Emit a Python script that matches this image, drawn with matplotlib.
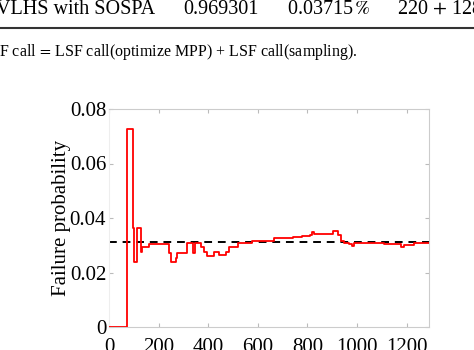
import matplotlib.pyplot as plt

plt.rcParams['font.family'] = ['Liberation Serif', 'DejaVu Serif']
plt.rcParams['mathtext.fontset'] = 'stix'

# failure probability estimate vs. number of samples (post-step)
n_samples = [0, 71, 95, 99, 112, 129, 133, 161, 243, 249, 270, 276, 314, 337,
             347, 370, 384, 397, 424, 443, 470, 484, 520, 578, 665, 700, 740,
             780, 812, 818, 826, 904, 923, 934, 947, 967, 980, 988, 1108,
             1177, 1189, 1230, 1290]
pf = [0.0, 0.0727, 0.0363, 0.024, 0.0363, 0.0275, 0.0293, 0.0305, 0.027,
      0.024, 0.0252, 0.027, 0.031, 0.027, 0.031, 0.0295, 0.0276, 0.026,
      0.0276, 0.0265, 0.0276, 0.0295, 0.031, 0.0315, 0.0325, 0.0328, 0.0331,
      0.0335, 0.0339, 0.035, 0.034, 0.0353, 0.0336, 0.0317, 0.031, 0.0305,
      0.0296, 0.031, 0.0306, 0.0295, 0.030, 0.0309, 0.0309]
pf_ref = 0.0312

x_ticks = [0, 200, 400, 600, 800, 1000, 1200]
y_ticks = [0, 0.02, 0.04, 0.06, 0.08]
y_tick_labels = ['0', '0.02', '0.04', '0.06', '0.08']

fig = plt.figure(figsize=(4.74, 3.5), dpi=100)

# table row and footnote above the plot
row_y = 1 - 9 / 350
fig.text(-4 / 474, row_y, 'VLHS with SOSPA', fontsize=14.5, va='center')
fig.text(183 / 474, row_y, '0.969301', fontsize=14.5, va='center')
fig.text(287 / 474, row_y, r'0.03715$\,\%$', fontsize=14.5, va='center')
fig.text(397 / 474, row_y, r'220$\,+\,$128', fontsize=14.5, va='center')
fig.add_artist(plt.Line2D([0, 1], [1 - 28 / 350, 1 - 28 / 350],
                          color='#333333', lw=1.5))
fig.text(-1 / 474, 1 - 52 / 350,
         r'F call$\,=\,$LSF call(optimize MPP) + LSF call(sampling).',
         fontsize=11.5, va='center')

ax = fig.add_axes([109 / 474, 23 / 350, 320 / 474, 218 / 350])
ax.step(n_samples, pf, where='post', color='red', lw=1.3, zorder=3)
ax.axhline(pf_ref, color='black', ls=(0, (4, 3)), lw=1.4, zorder=2)

ax.set_xlim(0, 1290)
ax.set_ylim(0, 0.08)
ax.set_xticks(x_ticks)
ax.set_yticks(y_ticks)
ax.set_yticklabels(y_tick_labels)
ax.tick_params(direction='in', length=3, color='#bbbbbb', labelsize=15,
               top=True, right=True)
ax.tick_params(axis='x', pad=8)
ax.tick_params(axis='y', pad=2)
for s in ax.spines.values():
    s.set_color('#cccccc')
    s.set_linewidth(0.8)
ax.spines['left'].set_color('#eeeeee')
ax.set_ylabel('Failure probability', fontsize=15, labelpad=-1)

fig.savefig('out.png', dpi=100)
